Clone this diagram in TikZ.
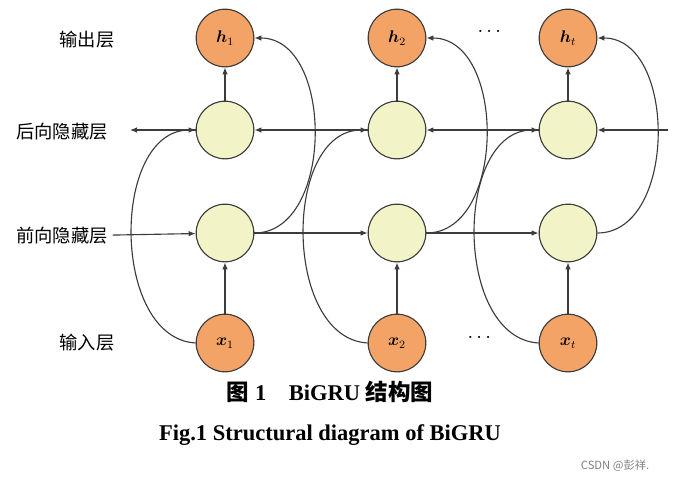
\documentclass[tikz,border=0pt]{standalone}
\usepackage{amsmath,amssymb,bm}
\usepackage{fontspec}
\setmainfont{Liberation Serif}
\newfontfamily\cjk{Noto Sans CJK SC}
\usetikzlibrary{arrows.meta}
\definecolor{outcol}{HTML}{F4A367}
\definecolor{hidcol}{HTML}{F2F4C8}
\definecolor{linecol}{HTML}{3C3C3C}
\tikzset{
	unit/.style={circle,draw=linecol,thick,minimum size=41pt,inner sep=0pt},
	io/.style={unit,fill=outcol,font=\large},
	hid/.style={unit,fill=hidcol},
	conn/.style={draw=linecol,thick,-{Latex[length=5pt,width=4pt]}},
	lab/.style={font=\cjk\fontsize{13}{13}\selectfont}
}
\begin{document}
\begin{tikzpicture}[x=0.025cm,y=-0.025cm]
	\useasboundingbox (0,0) rectangle (677,482);

	\node[lab] (lout) at (87,40) {输出层};
	\node[lab] (lback) at (62,132) {后向隐藏层};
	\node[lab] (lfwd) at (62,236) {前向隐藏层};
	\node[lab] (lin) at (87,343) {输入层};

	\foreach \i/\x/\s in {1/225/1,2/397/2,3/568/t} {
		\node[io] (h\i) at (\x,38) {$\bm{h}_{\s}$};
		\node[hid] (b\i) at (\x,130) {};
		\node[hid] (f\i) at (\x,233) {};
		\node[io] (x\i) at (\x,343) {$\bm{x}_{\s}$};
		\draw[conn] (b\i) -- (h\i);
		\draw[conn] (x\i) -- (f\i);
		\draw[conn] (x\i.west) .. controls +(-85,-5) and +(-85,0) .. (b\i.west);
		\draw[conn] (f\i.east) .. controls +(80,0) and +(80,0) .. (h\i.east);
	}

	\coordinate (bin) at (668,130);
	\coordinate (bout) at (130,130);
	\draw[conn] (bin) -- (b3);
	\draw[conn] (b3) -- (b2);
	\draw[conn] (b2) -- (b1);
	\draw[conn] (b1) -- (bout);
	\draw[conn] (lfwd) -- (f1);
	\draw[conn] (f1) -- (f2);
	\draw[conn] (f2) -- (f3);

	\node[font=\Large] (dotsh) at (491,32) {$\cdots$};
	\node[font=\Large] (dotsx) at (481,338) {$\cdots$};

	\node[font=\fontsize{16}{16}\selectfont\bfseries] (title) at (330,392) {{\cjk 图}\ 1\quad BiGRU {\cjk 结构图}};
	\node[font=\fontsize{16}{16}\selectfont\bfseries] (ctitle) at (330,435) {Fig.1 Structural diagram of BiGRU};
	\node[font=\cjk\fontsize{8}{8}\selectfont,text=gray] (mark) at (615,466) {CSDN @彭祥.};
\end{tikzpicture}
\end{document}
